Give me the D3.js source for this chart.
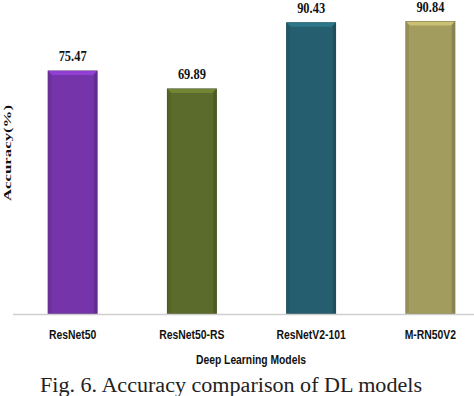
<!DOCTYPE html>
<html>
<head>
<meta charset="utf-8">
<script src="https://cdn.jsdelivr.net/npm/d3@7"></script>
<style>
	body { margin: 0; background: #fff; }
	svg { display: block; }
</style>
</head>
<body>
<div id="chart"></div>
<script>
// chart data
var models = ["ResNet50", "ResNet50-RS", "ResNetV2-101", "M-RN50V2"];
var accuracy = [75.47, 69.89, 90.43, 90.84];
var barColors = ["#7534aa", "#5b6b2b", "#255f6f", "#a39c5f"];

var W = 474, H = 396;

var svg = d3.select("#chart")
	.append("svg")
	.attr("width", W)
	.attr("height", H);

var x = d3.scaleBand()
	.domain(models)
	.range([13, 490])
	.paddingInner(0.59)
	.paddingOuter(0.295);

var y = d3.scaleLinear()
	.domain([0, 100])
	.range([314, -8]);

var data = models.map(function(m, i) {
	return {name: m, value: accuracy[i], color: barColors[i]};
});

// narrow a text to a fraction of its natural width
function squeeze(sel, k) {
	sel.each(function() {
		var len = this.getComputedTextLength();
		d3.select(this)
			.attr("textLength", len * k)
			.attr("lengthAdjust", "spacingAndGlyphs");
	});
}

// (bars) main body
var bars = svg.selectAll("g.bar")
	.data(data)
	.enter()
	.append("g")
	.attr("class", "bar");

bars.append("rect")
	.attr("x", function(d) { return x(d.name); })
	.attr("y", function(d) { return y(d.value); })
	.attr("width", x.bandwidth())
	.attr("height", function(d) { return y(0) - y(d.value); })
	.attr("fill", function(d) { return d.color; })
	.attr("stroke", function(d) { return d3.color(d.color).darker(0.9); })
	.attr("stroke-width", 1);

// (bevel) lighter top edge
var bev = 4;
bars.append("polygon")
	.attr("points", function(d) {
		var x0 = x(d.name), x1 = x0 + x.bandwidth(), t = y(d.value);
		return [[x0, t], [x1, t], [x1 - bev, t + bev], [x0 + bev, t + bev]].join(" ");
	})
	.attr("fill", function(d) { return d3.color(d.color).brighter(0.6); });

// (bevel) darker sides
bars.append("polygon")
	.attr("points", function(d) {
		var x0 = x(d.name), t = y(d.value), b = y(0);
		return [[x0, t], [x0 + bev - 1, t + bev], [x0 + bev - 1, b], [x0, b]].join(" ");
	})
	.attr("fill", function(d) { return d3.color(d.color).darker(0.25); });

bars.append("polygon")
	.attr("points", function(d) {
		var x1 = x(d.name) + x.bandwidth(), t = y(d.value), b = y(0);
		return [[x1, t], [x1 - bev + 1, t + bev], [x1 - bev + 1, b], [x1, b]].join(" ");
	})
	.attr("fill", function(d) { return d3.color(d.color).darker(0.5); });

// (labels) values above bars
bars.append("text")
	.attr("x", function(d) { return x(d.name) + x.bandwidth() / 2; })
	.attr("y", function(d) { return y(d.value) - 10; })
	.attr("text-anchor", "middle")
	.attr("font-family", "'Liberation Serif', 'DejaVu Serif', serif")
	.attr("font-weight", "bold")
	.attr("font-size", 14)
	.attr("textLength", 28)
	.attr("lengthAdjust", "spacingAndGlyphs")
	.attr("fill", "#111")
	.text(function(d) { return d.value.toFixed(2); });

// (axis) baseline
svg.append("line")
	.attr("x1", 13)
	.attr("x2", W)
	.attr("y1", y(0) + 0.5)
	.attr("y2", y(0) + 0.5)
	.attr("stroke", "#cfcfcf")
	.attr("stroke-width", 1.5);

// (axis) category labels
var xAxis = svg.append("g")
	.attr("transform", "translate(0," + y(0) + ")")
	.call(d3.axisBottom(x).tickSize(0).tickPadding(16));
xAxis.select(".domain").remove();
xAxis.selectAll("text")
	.attr("font-family", "'Liberation Sans', sans-serif")
	.attr("font-weight", "bold")
	.attr("font-size", 13)
	.attr("fill", "#111")
	.call(squeeze, 0.8);

// (titles) axis titles
svg.append("text")
	.attr("x", 251)
	.attr("y", 364)
	.attr("text-anchor", "middle")
	.attr("font-family", "'Liberation Sans', sans-serif")
	.attr("font-weight", "bold")
	.attr("font-size", 12.5)
	.attr("fill", "#111")
	.attr("textLength", 110)
	.attr("lengthAdjust", "spacingAndGlyphs")
	.text("Deep Learning Models");

svg.append("text")
	.attr("transform", "translate(11,153) rotate(-90)")
	.attr("text-anchor", "middle")
	.attr("font-family", "'Liberation Serif', serif")
	.attr("font-weight", "bold")
	.attr("font-size", 11)
	.attr("textLength", 96)
	.attr("lengthAdjust", "spacingAndGlyphs")
	.attr("fill", "#111")
	.text("Accuracy(%)");

// (caption) figure caption
svg.append("text")
	.attr("x", 231)
	.attr("y", 392)
	.attr("text-anchor", "middle")
	.attr("font-family", "'Liberation Serif', serif")
	.attr("font-size", 20)
	.attr("textLength", 382)
	.attr("lengthAdjust", "spacingAndGlyphs")
	.attr("fill", "#222")
	.text("Fig. 6. Accuracy comparison of DL models");
</script>
</body>
</html>
